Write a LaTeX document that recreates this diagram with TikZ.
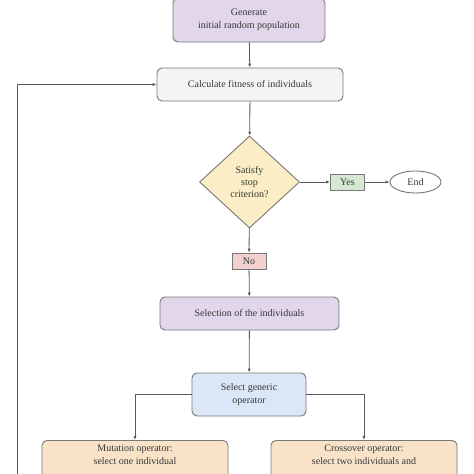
\documentclass[tikz,border=0pt]{standalone}
\usepackage{fontspec}
\setmainfont{Liberation Serif}
\usetikzlibrary{shapes.geometric,arrows.meta}
\definecolor{bordc}{RGB}{120,120,120}
\definecolor{linec}{RGB}{90,90,90}
\definecolor{textc}{RGB}{55,55,55}
\definecolor{purp}{RGB}{226,214,234}
\definecolor{calcc}{RGB}{244,244,244}
\definecolor{diac}{RGB}{251,238,198}
\definecolor{yesc}{RGB}{214,232,212}
\definecolor{noc}{RGB}{241,208,208}
\definecolor{bluec}{RGB}{219,231,246}
\definecolor{peach}{RGB}{248,226,200}
\tikzset{
  box/.style={draw=bordc, line width=0.9pt, rounded corners=5pt, inner sep=0pt, align=center,
    font=\fontsize{10}{12.5}\selectfont, text=textc},
  tag/.style={draw=bordc, line width=0.9pt, inner sep=0pt, font=\fontsize{10}{11}\selectfont, text=textc},
  arr/.style={draw=linec, line width=0.8pt, -{Latex[length=4pt,width=3.2pt]}},
  ln/.style={draw=linec, line width=0.8pt}
}
\begin{document}
\begin{tikzpicture}[x=1pt,y=-1pt]
\clip (0,0) rectangle (474,474);
\fill[white] (0,0) rectangle (474,474);
\node[box, fill=purp, minimum width=152pt, minimum height=44pt] (gen) at (249,20) {Generate\\initial random population};
\node[box, fill=calcc, minimum width=186pt, minimum height=33pt] (calc) at (250,84.5) {Calculate fitness of individuals};
\node[draw=bordc, line width=0.9pt, fill=diac, diamond, inner sep=0pt, minimum width=100pt, minimum height=92pt, align=center,
  font=\fontsize{10}{12.2}\selectfont, text=textc] (dec) at (249.5,182) {Satisfy\\stop\\criterion?};
\node[tag, fill=yesc, minimum width=34pt, minimum height=16pt] (yes) at (347.5,182) {Yes};
\node[draw=bordc, line width=0.9pt, ellipse, inner sep=0pt, minimum width=51pt, minimum height=22pt,
  font=\fontsize{10}{11}\selectfont, text=textc] (end) at (415.5,182) {End};
\node[tag, fill=noc, minimum width=34pt, minimum height=16pt] (no) at (249,261) {No};
\node[box, fill=purp, minimum width=179pt, minimum height=33pt] (sel) at (249.5,313.5) {Selection of the individuals};
\node[box, fill=bluec, minimum width=114pt, minimum height=43pt] (gop) at (249,394.5) {Select generic\\operator};
\node[box, fill=peach, anchor=north, minimum width=186pt, inner ysep=4.5pt, text depth=40pt] (mut) at (135,440) {Mutation operator:\\select one individual};
\node[box, fill=peach, anchor=north, minimum width=186pt, inner ysep=4.5pt, text depth=40pt] (cro) at (364,440) {Crossover operator:\\select two individuals and};
\coordinate (loopstart) at (17,480);
\coordinate (loopcorner) at (17,84.5);
\draw[arr] (gen) -- (calc);
\draw[arr] (calc) -- (dec);
\draw[arr] (dec) -- (yes);
\draw[arr] (yes) -- (end);
\draw[arr] (dec) -- (no);
\draw[arr] (no) -- (sel);
\draw[arr] (sel) -- (gop);
\draw[arr] (gop.west) -| (mut.north);
\draw[arr] (gop.east) -| (cro.north);
\draw[arr] (loopstart) -- (loopcorner) -- (calc.west);
\end{tikzpicture}
\end{document}
